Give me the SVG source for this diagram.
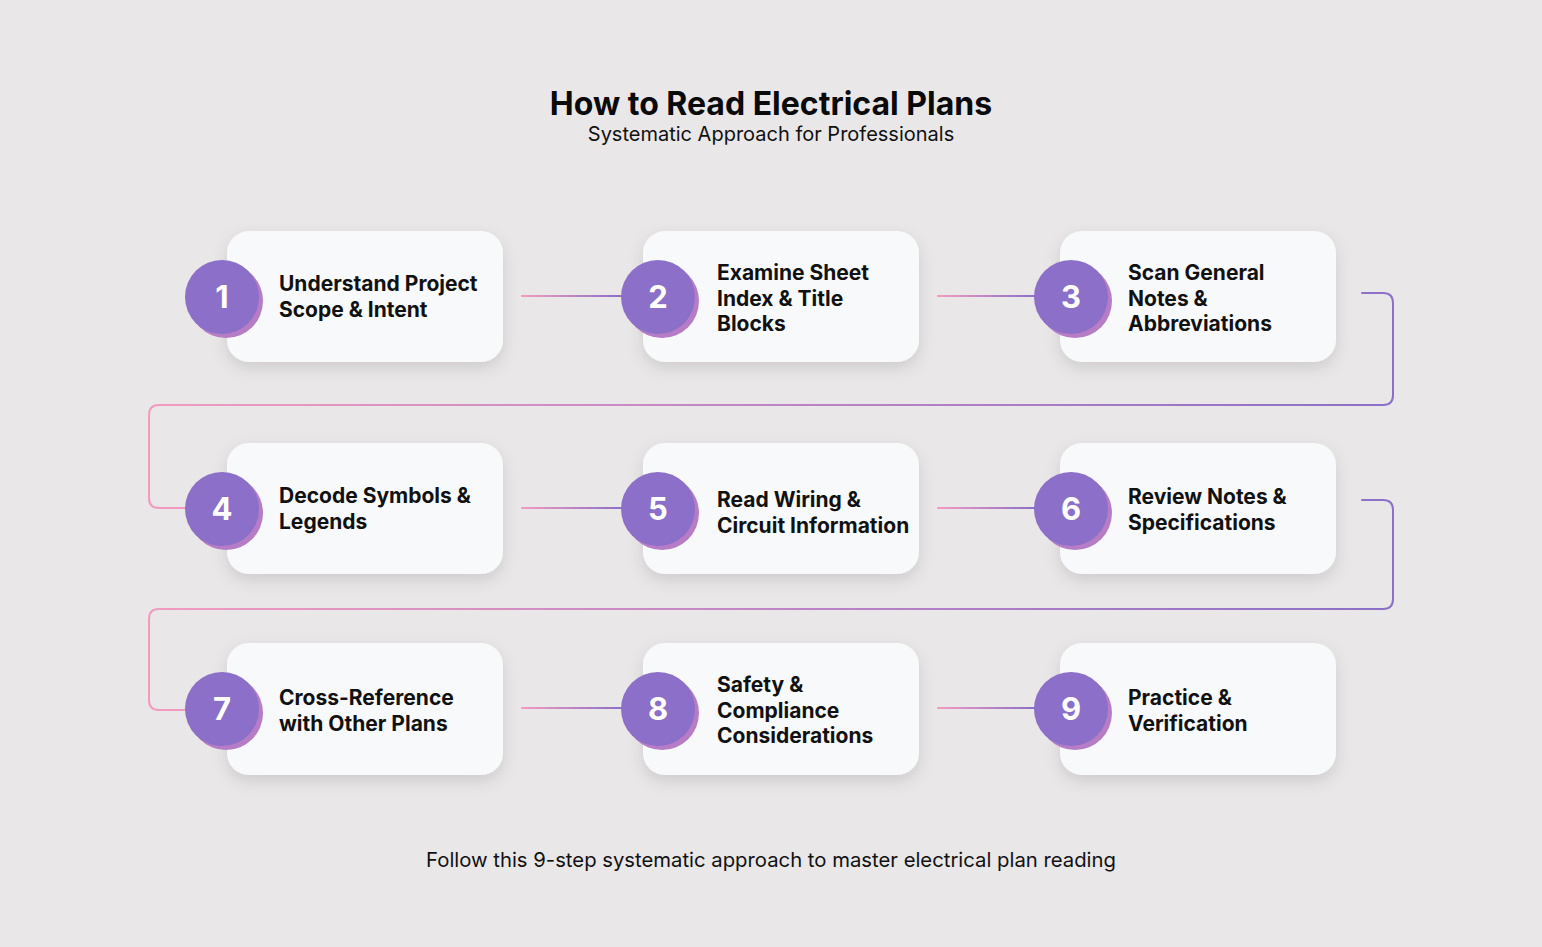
<svg xmlns="http://www.w3.org/2000/svg" width="1542" height="947" viewBox="0 0 1542 947">
<defs>
<style>
.card{fill:#f8f9fb;filter:url(#sh)}
.c1{fill:#8b6fc8}
.c2{fill:#b67cc6}
.num{font-family:Inter,"Noto Sans",sans-serif;font-weight:700;font-size:31px;fill:#ffffff;text-anchor:middle}
.lbl{font-family:Inter,"Noto Sans",sans-serif;font-weight:700;font-size:21px;fill:#111111}
.ln{fill:none;stroke-width:2;stroke-linecap:round}
</style>
<filter id="sh" x="-20%" y="-20%" width="140%" height="150%">
<feDropShadow dx="0" dy="6" stdDeviation="8" flood-color="#000" flood-opacity="0.12"/>
</filter>
<linearGradient id="gA" gradientUnits="userSpaceOnUse" x1="522" y1="0" x2="621" y2="0">
<stop offset="0" stop-color="#f29bc0"/><stop offset="1" stop-color="#8b6fc8"/>
</linearGradient>
<linearGradient id="gB" gradientUnits="userSpaceOnUse" x1="938" y1="0" x2="1035" y2="0">
<stop offset="0" stop-color="#f29bc0"/><stop offset="1" stop-color="#8b6fc8"/>
</linearGradient>
<linearGradient id="gR" gradientUnits="userSpaceOnUse" x1="149" y1="0" x2="1393" y2="0">
<stop offset="0" stop-color="#f29bc0"/><stop offset="1" stop-color="#8b6fc8"/>
</linearGradient>
</defs>
<rect width="1542" height="947" fill="#e9e7e8"/>
<text x="771" y="115" text-anchor="middle" font-family="Inter,'Noto Sans',sans-serif" font-weight="700" font-size="32" fill="#0a0a0a">How to Read Electrical Plans</text>
<text x="771" y="141" text-anchor="middle" font-family="Inter,'Noto Sans',sans-serif" font-size="20" fill="#111">Systematic Approach for Professionals</text>

<g id="connectors">
<line class="ln" x1="522" y1="296" x2="621" y2="296" stroke="url(#gA)"/>
<line class="ln" x1="938" y1="296" x2="1035" y2="296" stroke="url(#gB)"/>
<line class="ln" x1="522" y1="508" x2="621" y2="508" stroke="url(#gA)"/>
<line class="ln" x1="938" y1="508" x2="1035" y2="508" stroke="url(#gB)"/>
<line class="ln" x1="522" y1="708" x2="621" y2="708" stroke="url(#gA)"/>
<line class="ln" x1="938" y1="708" x2="1035" y2="708" stroke="url(#gB)"/>
<path class="ln" stroke="url(#gR)" d="M1362,293 H1383 Q1393,293 1393,303 V395 Q1393,405 1383,405 H159 Q149,405 149,415 V498 Q149,508 159,508 H185"/>
<path class="ln" stroke="url(#gR)" d="M1362,500 H1383 Q1393,500 1393,510 V599 Q1393,609 1383,609 H159 Q149,609 149,619 V700 Q149,710 159,710 H185"/>
</g>

<g id="node1">
<rect class="card" x="227" y="231" width="276" height="131" rx="22"/>
<circle class="c2" cx="226" cy="301" r="37"/><circle class="c1" cx="222" cy="297" r="37"/>
<text class="num" x="222" y="308">1</text>
<text class="lbl" x="279" y="291">Understand Project</text>
<text class="lbl" x="279" y="317">Scope &amp; Intent</text>
</g>
<g id="node2">
<rect class="card" x="643" y="231" width="276" height="131" rx="22"/>
<circle class="c2" cx="662" cy="301" r="37"/><circle class="c1" cx="658" cy="297" r="37"/>
<text class="num" x="658" y="308">2</text>
<text class="lbl" x="717" y="280">Examine Sheet</text>
<text class="lbl" x="717" y="306">Index &amp; Title</text>
<text class="lbl" x="717" y="331">Blocks</text>
</g>
<g id="node3">
<rect class="card" x="1060" y="231" width="276" height="131" rx="22"/>
<circle class="c2" cx="1075" cy="301" r="37"/><circle class="c1" cx="1071" cy="297" r="37"/>
<text class="num" x="1071" y="308">3</text>
<text class="lbl" x="1128" y="280">Scan General</text>
<text class="lbl" x="1128" y="306">Notes &amp;</text>
<text class="lbl" x="1128" y="331">Abbreviations</text>
</g>
<g id="node4">
<rect class="card" x="227" y="443" width="276" height="131" rx="22"/>
<circle class="c2" cx="226" cy="513" r="37"/><circle class="c1" cx="222" cy="509" r="37"/>
<text class="num" x="222" y="520">4</text>
<text class="lbl" x="279" y="503">Decode Symbols &amp;</text>
<text class="lbl" x="279" y="529">Legends</text>
</g>
<g id="node5">
<rect class="card" x="643" y="443" width="276" height="131" rx="22"/>
<circle class="c2" cx="662" cy="513" r="37"/><circle class="c1" cx="658" cy="509" r="37"/>
<text class="num" x="658" y="520">5</text>
<text class="lbl" x="717" y="507">Read Wiring &amp;</text>
<text class="lbl" x="717" y="533">Circuit Information</text>
</g>
<g id="node6">
<rect class="card" x="1060" y="443" width="276" height="131" rx="22"/>
<circle class="c2" cx="1075" cy="513" r="37"/><circle class="c1" cx="1071" cy="509" r="37"/>
<text class="num" x="1071" y="520">6</text>
<text class="lbl" x="1128" y="504">Review Notes &amp;</text>
<text class="lbl" x="1128" y="530">Specifications</text>
</g>
<g id="node7">
<rect class="card" x="227" y="643" width="276" height="132" rx="22"/>
<circle class="c2" cx="226" cy="713" r="37"/><circle class="c1" cx="222" cy="709" r="37"/>
<text class="num" x="222" y="720">7</text>
<text class="lbl" x="279" y="705">Cross-Reference</text>
<text class="lbl" x="279" y="731">with Other Plans</text>
</g>
<g id="node8">
<rect class="card" x="643" y="643" width="276" height="132" rx="22"/>
<circle class="c2" cx="662" cy="713" r="37"/><circle class="c1" cx="658" cy="709" r="37"/>
<text class="num" x="658" y="720">8</text>
<text class="lbl" x="717" y="692">Safety &amp;</text>
<text class="lbl" x="717" y="718">Compliance</text>
<text class="lbl" x="717" y="743">Considerations</text>
</g>
<g id="node9">
<rect class="card" x="1060" y="643" width="276" height="132" rx="22"/>
<circle class="c2" cx="1075" cy="713" r="37"/><circle class="c1" cx="1071" cy="709" r="37"/>
<text class="num" x="1071" y="720">9</text>
<text class="lbl" x="1128" y="705">Practice &amp;</text>
<text class="lbl" x="1128" y="731">Verification</text>
</g>

<text x="771" y="867" text-anchor="middle" font-family="Inter,'Noto Sans',sans-serif" font-size="20.3" fill="#111">Follow this 9-step systematic approach to master electrical plan reading</text>
</svg>
